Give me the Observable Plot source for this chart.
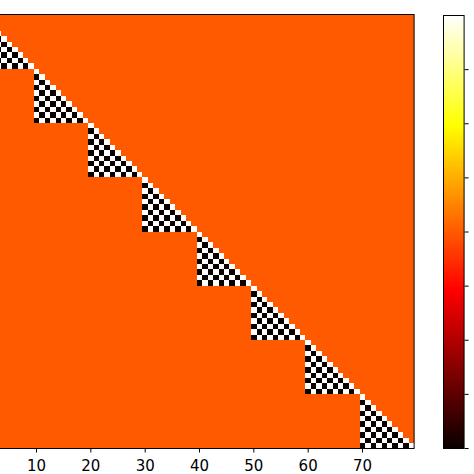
<!DOCTYPE html>
<html>
<head>
<meta charset="utf-8">
<script src="https://cdn.jsdelivr.net/npm/d3@7"></script>
<script src="https://cdn.jsdelivr.net/npm/@observablehq/plot@0.6"></script>
<style>
  html, body { margin: 0; padding: 0; background: #fff; overflow: hidden; }
  #wrap { position: relative; width: 474px; height: 474px; overflow: hidden; }
  #main { position: absolute; left: -61.3px; top: 0; width: 476px; }
  #cbar { position: absolute; left: 442.7px; top: 0; width: 40px; }
  #wrap svg { max-width: none !important; }
</style>
</head>
<body>
<div id="wrap"><div id="main"></div><div id="cbar"></div></div>
<script>
// ---- data ----
const matrixSize = 80;
const blockSize = 10;
const blockStarts = [0, 10, 20, 30, 40, 50, 60, 70];
const offBlockValue = 0.5;   // orange
const evenValue = 1;         // white squares
const oddValue = 0;          // black squares
const xTicks = [10, 20, 30, 40, 50, 60, 70];
const colorbarTicks = [0, 0.125, 0.25, 0.375, 0.5, 0.625, 0.75, 0.875];
const hotStops = [0, 0.365, 0.746, 1];
const hotColors = ["rgb(10,0,0)", "rgb(255,0,0)", "rgb(255,255,0)", "rgb(255,255,255)"];
const colorbarSteps = 256;

// matrix cells: lower triangle of each diagonal block is a checkerboard
const cells = [];
for (let r = 0; r < matrixSize; r++) {
  const b = blockStarts[Math.floor(r / blockSize)];
  for (let c = 0; c < matrixSize; c++) {
    let v = offBlockValue;
    if (c >= b && c <= r) v = (r + c) % 2 === 0 ? evenValue : oddValue;
    cells.push({r, c, v});
  }
}
const cbarSamples = d3.range(colorbarSteps).map(i => ({lo: i / colorbarSteps, hi: (i + 1) / colorbarSteps, v: (i + 0.5) / colorbarSteps}));

const colorScale = {type: "linear", domain: hotStops, range: hotColors, interpolate: "rgb"};
const style = {fontFamily: "DejaVu Sans, sans-serif", fontSize: "15px", color: "black", background: "transparent"};

const main = Plot.plot({
  width: 476, height: 474,
  marginLeft: 40, marginRight: 1.4, marginTop: 14, marginBottom: 26,
  style,
  x: {domain: [-0.5, matrixSize - 0.5], ticks: xTicks, tickSize: 4.5, tickPadding: 7, label: null},
  y: {domain: [-0.5, matrixSize - 0.5], reverse: true, axis: null},
  color: colorScale,
  marks: [
    Plot.raster(cells, {x: "c", y: "r", fill: "v", width: matrixSize, height: matrixSize,
      x1: -0.5, x2: matrixSize - 0.5, y1: -0.5, y2: matrixSize - 0.5, imageRendering: "pixelated"}),
    Plot.frame({stroke: "black", strokeWidth: 1})
  ]
});
document.getElementById("main").appendChild(main);

const cbar = Plot.plot({
  width: 40, height: 474,
  marginLeft: 0, marginRight: 19.4, marginTop: 15, marginBottom: 26,
  style,
  x: {domain: [0, 1], axis: null},
  y: {domain: [0, 1], axis: "right", ticks: colorbarTicks, tickSize: 4, tickFormat: () => "", label: null},
  color: colorScale,
  marks: [
    Plot.rect(cbarSamples, {x1: 0, x2: 1, y1: "lo", y2: "hi", fill: "v", shapeRendering: "crispEdges"}),
    Plot.frame({stroke: "black", strokeWidth: 1})
  ]
});
document.getElementById("cbar").appendChild(cbar);
</script>
</body>
</html>
